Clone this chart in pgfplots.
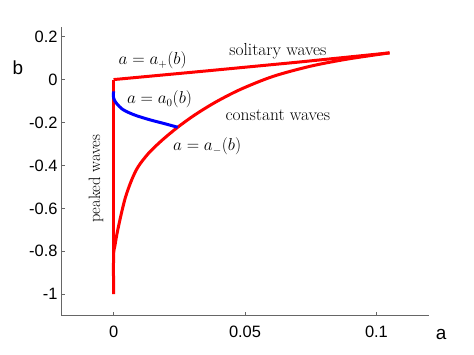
\documentclass[border=0pt]{standalone}
\usepackage{fontspec}
\usepackage{pgfplots}
\pgfplotsset{compat=1.18}
\newfontfamily\helv{Liberation Sans}
\begin{document}
\begin{tikzpicture}
\useasboundingbox (-61bp,-39.3bp) rectangle (413bp,315.7bp);
\begin{axis}[
  at={(0,0)}, anchor=south west,
  width=368bp, height=288.7bp, scale only axis,
  xmin=-0.02, xmax=0.12, ymin=-1.1, ymax=0.245,
  axis x line*=bottom, axis y line*=left,
  axis line style={-, draw=gray!80!black, line width=0.6bp},
  xtick={0,0.05,0.1}, xticklabels={0,0.05,0.1},
  ytick={-1,-0.8,-0.6,-0.4,-0.2,0,0.2},
  yticklabels={-1,-0.8,-0.6,-0.4,-0.2,0,0.2},
  tick align=inside, major tick length=4bp,
  tick style={draw=gray!80!black, line width=0.6bp},
  ticklabel style={font=\helv\fontsize{16.5}{19}\selectfont},
  xticklabel style={yshift=-7bp},
  xlabel={a}, ylabel={b},
  xlabel style={at={(axis description cs:1.033,-0.066)}, anchor=center, font=\helv\fontsize{19}{22}\selectfont},
  ylabel style={at={(axis description cs:-0.117,0.858)}, anchor=center, rotate=-90, font=\helv\fontsize{19}{22}\selectfont},
  clip=false,
]
% peaked waves boundary
\addplot[red, line width=3bp] coordinates {(0,-1) (0,0)};
% a = a_+(b)
\addplot[red, line width=3bp] coordinates {(0,0) (0.035,0.040) (0.07,0.081) (0.105,0.1245)};
% a = a_-(b)
\addplot[red, line width=3bp, smooth, tension=0.5] coordinates {
 (0,-1) (0,-0.82) (0.0005,-0.775) (0.0014,-0.712) (0.0030,-0.622) (0.0046,-0.545)
 (0.0069,-0.467) (0.0094,-0.405) (0.0134,-0.342) (0.0184,-0.283) (0.0244,-0.222)
 (0.0311,-0.163) (0.0391,-0.103) (0.0484,-0.045) (0.0607,0.015) (0.0748,0.062)
 (0.0887,0.095) (0.105,0.1245)};
% a = a_0(b)
\addplot[blue, line width=3bp, smooth] coordinates {
 (0,-0.055) (0,-0.085) (0.001,-0.109) (0.0036,-0.14) (0.008,-0.165)
 (0.0137,-0.187) (0.019,-0.204) (0.0244,-0.222)};
\node[font=\fontsize{17.5}{20}\selectfont] at (axis cs:0.0625,0.132) {solitary waves};
\node[font=\fontsize{16}{19}\selectfont] at (axis cs:0.0149,0.089) {$a=a_+(b)$};
\node[font=\fontsize{16}{19}\selectfont] at (axis cs:0.0175,-0.093) {$a=a_0(b)$};
\node[font=\fontsize{17.5}{20}\selectfont] at (axis cs:0.0625,-0.168) {constant waves};
\node[font=\fontsize{16}{19}\selectfont] at (axis cs:0.0356,-0.311) {$a=a_-(b)$};
\node[font=\fontsize{16.5}{19}\selectfont, rotate=90] at (axis cs:-0.0067,-0.462) {peaked waves};
\end{axis}
\end{tikzpicture}
\end{document}
